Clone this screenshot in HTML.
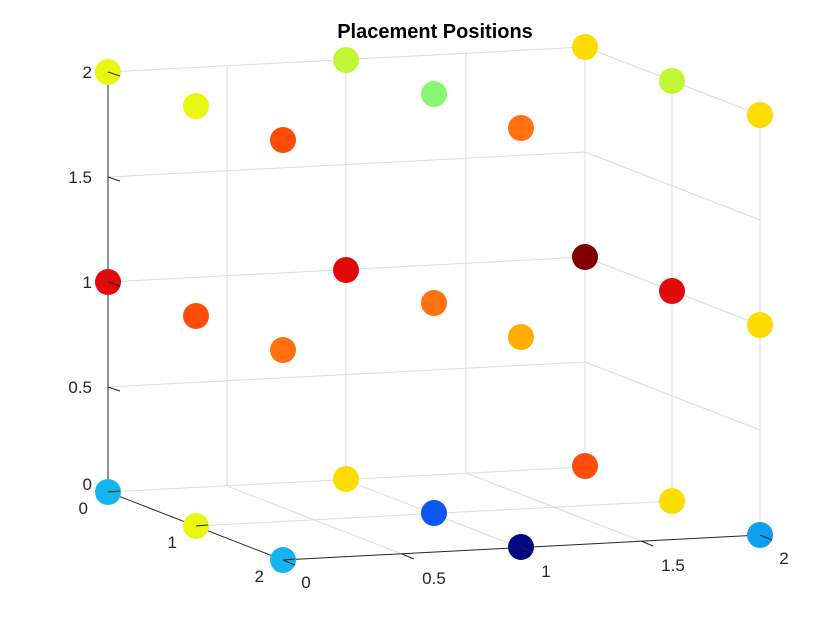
<!DOCTYPE html><html><head><style>body{margin:0;background:#fff}svg text{font-family:"Liberation Sans",sans-serif;font-size:17px;fill:#262626}</style></head><body>
<svg width="840" height="630" xmlns="http://www.w3.org/2000/svg">
<rect width="840" height="630" fill="#fff"/>
<g stroke="#dcdcdc" stroke-width="1" fill="none">
<line x1="108" y1="72" x2="585" y2="47"/>
<line x1="227" y1="66" x2="227" y2="486"/><line x1="346" y1="60" x2="346" y2="480"/><line x1="466" y1="53" x2="466" y2="473"/><line x1="585" y1="47" x2="585" y2="467"/>
<line x1="108" y1="177" x2="585" y2="152"/><line x1="108" y1="282" x2="585" y2="257"/><line x1="108" y1="387" x2="585" y2="362"/><line x1="108" y1="492" x2="585" y2="467"/>
<line x1="585" y1="47" x2="760" y2="115"/><line x1="672" y1="81" x2="672" y2="501"/><line x1="760" y1="115" x2="760" y2="535"/>
<line x1="585" y1="152" x2="760" y2="220"/><line x1="585" y1="257" x2="760" y2="325"/><line x1="585" y1="362" x2="760" y2="430"/>
<line x1="227" y1="486" x2="402" y2="554"/><line x1="346" y1="480" x2="521" y2="548"/><line x1="466" y1="473" x2="641" y2="541"/>
<line x1="196" y1="526" x2="672" y2="501"/>
</g>
<g stroke="#262626" stroke-width="1">
<line x1="108" y1="72" x2="108" y2="492"/>
<line x1="108" y1="492" x2="283" y2="560"/>
<line x1="283" y1="560" x2="760" y2="535"/>
</g>
<g>
<circle cx="108" cy="492" r="13" fill="#16b4ee"/><circle cx="196" cy="526" r="13" fill="#e8f70f"/><circle cx="283" cy="560" r="13" fill="#16b4ee"/>
<circle cx="346" cy="479" r="13" fill="#fddc00"/><circle cx="434" cy="513" r="13" fill="#0b57f0"/><circle cx="521" cy="547" r="13" fill="#000a82"/>
<circle cx="585" cy="466" r="13" fill="#ff4c0a"/><circle cx="672" cy="501" r="13" fill="#fddc00"/><circle cx="760" cy="535" r="13" fill="#0f9ff0"/>
<circle cx="108" cy="282" r="13" fill="#e00a0a"/><circle cx="196" cy="316" r="13" fill="#ff4c0a"/><circle cx="283" cy="350" r="13" fill="#ff7010"/>
<circle cx="346" cy="270" r="13" fill="#e00a0a"/><circle cx="434" cy="303" r="13" fill="#ff7010"/><circle cx="521" cy="337" r="13" fill="#ffae00"/>
<circle cx="585" cy="257" r="13" fill="#800000"/><circle cx="672" cy="291" r="13" fill="#e00a0a"/><circle cx="760" cy="325" r="13" fill="#fddc00"/>
<circle cx="108" cy="72" r="13" fill="#e8f70f"/><circle cx="196" cy="106" r="13" fill="#e8f70f"/><circle cx="283" cy="140" r="13" fill="#ff4c0a"/>
<circle cx="346" cy="60" r="13" fill="#c0f838"/><circle cx="434" cy="94" r="13" fill="#88f870"/><circle cx="521" cy="128" r="13" fill="#ff7010"/>
<circle cx="585" cy="47" r="13" fill="#fddc00"/><circle cx="672" cy="81" r="13" fill="#c0f838"/><circle cx="760" cy="115" r="13" fill="#fddc00"/>
</g>
<g stroke="#262626" stroke-width="1">
<line x1="108" y1="492" x2="120" y2="491"/><line x1="196" y1="526" x2="208" y2="525"/><line x1="283" y1="560" x2="295" y2="559"/>
<line x1="283" y1="560" x2="295" y2="565"/><line x1="402" y1="554" x2="414" y2="559"/><line x1="521" y1="547" x2="533" y2="552"/><line x1="641" y1="541" x2="653" y2="546"/><line x1="760" y1="535" x2="772" y2="540"/>
<line x1="108" y1="72" x2="120" y2="76"/><line x1="108" y1="177" x2="120" y2="181"/><line x1="108" y1="282" x2="120" y2="286"/><line x1="108" y1="387" x2="120" y2="391"/>
</g>
<text x="435" y="38" text-anchor="middle" style="font-weight:bold;fill:#000;font-size:20px">Placement Positions</text>
<g text-anchor="end">
<text x="92" y="78">2</text><text x="92" y="183">1.5</text><text x="92" y="288">1</text><text x="92" y="393">0.5</text><text x="92" y="490">0</text>
<text x="88" y="514">0</text><text x="177" y="548">1</text><text x="264" y="582">2</text>
</g>
<g text-anchor="middle">
<text x="306" y="588">0</text><text x="434" y="584">0.5</text><text x="546" y="577">1</text><text x="673" y="571">1.5</text><text x="784" y="564">2</text>
</g>
</svg>
</body></html>
